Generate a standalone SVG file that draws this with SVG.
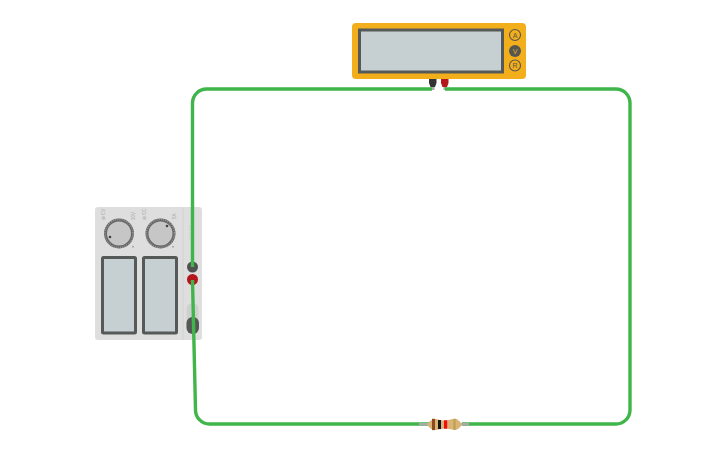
<svg xmlns="http://www.w3.org/2000/svg" width="725" height="453" viewBox="0 0 725 453">
<style>
.wire{fill:none;stroke:#3fb54a;stroke-width:3.400;stroke-linecap:butt}
.screen{fill:#c6cfd1;stroke:#555a58;stroke-width:3}
.knob{fill:#c6c6c6;stroke:#666;stroke-width:3}
.teeth{fill:none;stroke:#999;stroke-width:1.600;stroke-dasharray:1 1.200}
.lbl{font-family:"Liberation Sans",Arial,sans-serif;font-size:4.500px;fill:#a8a8a8}
.mm{font-family:"Liberation Sans",Arial,sans-serif;font-size:7px;text-anchor:middle}
.ring{fill:none;stroke:#55564f;stroke-width:1.100}
</style>
<rect width="725" height="453" fill="#fff"/>
<g id="power-supply">
<rect x="95" y="207" width="107" height="133" rx="3" fill="#dedede"/>
<path d="M183 207.500V339.500" stroke="#d2d2d2" stroke-width="1" fill="none"/>
<circle class="knob" cx="119" cy="233.500" r="13.500"/>
<circle class="teeth" cx="119" cy="233.500" r="14"/>
<circle cx="110" cy="237" r="1.300" fill="#444"/>
<circle class="knob" cx="160.500" cy="233.500" r="13.500"/>
<circle class="teeth" cx="160.500" cy="233.500" r="14"/>
<circle cx="167" cy="226" r="1.300" fill="#444"/>
<circle cx="103.500" cy="218" r="2" fill="#c4c4c4"/>
<circle cx="144.500" cy="218" r="2" fill="#c4c4c4"/>
<text class="lbl" transform="translate(105 215) rotate(-90)">CV</text>
<text class="lbl" transform="translate(146 215) rotate(-90)">CC</text>
<text class="lbl" transform="translate(134.500 220) rotate(-90)">30V</text>
<text class="lbl" transform="translate(175.500 219) rotate(-90)">5A</text>
<rect x="132" y="246" width="2" height="1.500" fill="#a8a8a8"/>
<rect x="172" y="246" width="2" height="1.500" fill="#a8a8a8"/>
<rect class="screen" x="102.500" y="257.500" width="33" height="75.500" rx="1"/>
<rect class="screen" x="143.500" y="257.500" width="33" height="75.500" rx="1"/>
<text class="lbl" transform="translate(193 240) rotate(-90)" style="fill:#cecece">30V 5A</text>
<circle cx="192.500" cy="267" r="5.500" fill="#4f5150"/>
<circle cx="192.500" cy="279.500" r="5.500" fill="#b3161b"/>
<rect x="186.500" y="303" width="12" height="30" rx="6" fill="#cfcfcf"/>
<rect x="186.500" y="317" width="12.500" height="17" rx="6" fill="#555756"/>
</g>
<g id="multimeter">
<rect x="352" y="23" width="174" height="56" rx="4" fill="#f3ae1c"/>
<rect class="screen" x="359.500" y="30" width="143" height="42"/>
<circle class="ring" cx="515" cy="35" r="5.500"/>
<text class="mm" x="515" y="37.500" fill="#55564f">A</text>
<circle cx="515" cy="51" r="6" fill="#55564f"/>
<text class="mm" x="515" y="53.500" fill="#f3ae1c">V</text>
<circle class="ring" cx="515" cy="65.500" r="5.500"/>
<text class="mm" x="515" y="68" fill="#55564f">R</text>
<path d="M429 79h7.500v4l-1.500 4h-4.500l-1.500-4z" fill="#333"/>
<path d="M441 79h7.500v4l-1.500 4h-4.500l-1.500-4z" fill="#b3161b"/>
<rect x="431.500" y="87" width="3" height="3" fill="#aaa"/>
<rect x="443.500" y="87" width="3" height="3" fill="#aaa"/>
</g>
<g id="connectors">
<path class="wire" d="M192.500 267V103A14 14 0 0 1 206.500 89H432"/>
<path class="wire" d="M192.500 280L195.500 410A14 14 0 0 0 209.500 424H430"/>
<path class="wire" d="M462 424H616A14 14 0 0 0 630 410V103A14 14 0 0 0 616 89H445"/>
</g>
<g id="resistor">
<rect x="419" y="423" width="12" height="2.500" fill="#a9a9a9"/>
<rect x="460" y="423" width="9" height="2.500" fill="#a9a9a9"/>
<path d="M427 424.500Q431 418.500 436 419Q441 420.500 446 420.500Q451 419.500 455 418.500Q459 419.500 462 424.500Q459 429.500 455 430Q451 429 446 428.500Q441 428.500 436 430Q431 430.500 427 424.500Z" fill="#dcb377"/>
<rect x="432" y="418.800" width="3" height="11.300" fill="#8b4a1c"/>
<rect x="438" y="420" width="3" height="9" fill="#161616"/>
<rect x="444" y="420.300" width="3.200" height="8.400" fill="#f00d0d"/>
<rect x="453.500" y="419" width="2" height="11" fill="#b6a24c"/>
</g>
</svg>
